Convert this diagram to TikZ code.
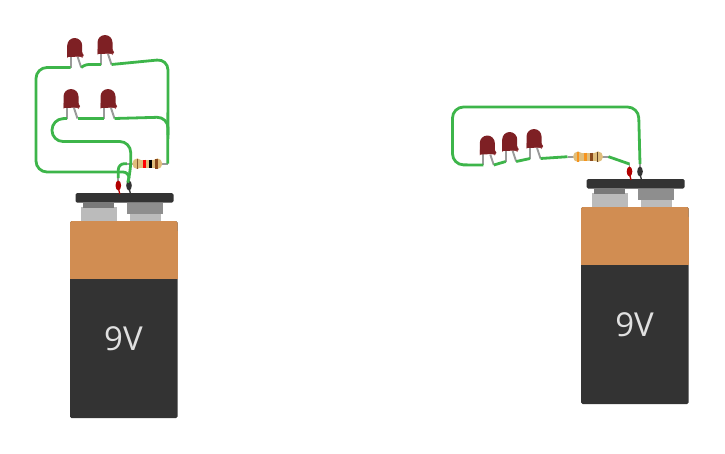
\documentclass[tikz,border=0pt]{standalone}
\usepackage{fontspec}
\newfontfamily\batfont{Open Sans}
\usetikzlibrary{calc}
\definecolor{wiregreen}{HTML}{3DB54A}
\definecolor{ledred}{HTML}{7E2024}
\definecolor{ledrim}{HTML}{A85658}
\definecolor{legrey}{HTML}{9A9A9A}
\definecolor{barblack}{HTML}{333333}
\definecolor{capdark}{HTML}{8E8E8E}
\definecolor{caplight}{HTML}{BBBBBB}
\definecolor{batorange}{HTML}{D18D52}
\definecolor{rescolor}{HTML}{E0BE7C}
\definecolor{bandorange}{HTML}{F7941D}
\definecolor{bandbrown}{HTML}{8B4A1C}
\tikzset{
  wire/.style={draw=wiregreen, line width=2.8pt, rounded corners=11pt},
  leg/.style={draw=legrey, line width=1.9pt},
  pics/led/.style={code={
    % legs first, body on top
    \coordinate (-a) at (-4,29.5);
    \coordinate (-b) at (6.5,29.5);
    \draw[leg] (-4,18) -- (-a);
    \draw[leg] (3,19) -- (-b);
    \fill[ledrim] (-7.5,14) -- (7.5,14) -- (9,17.5) -- (7.5,20) arc[start angle=360,end angle=180,x radius=7.5,y radius=1.8] -- cycle;
    \fill[ledred] (-7.5,19) -- (-7.5,7.5) arc[start angle=180,end angle=360,radius=7.5] -- (7.5,15.5) -- (9,17) -- (7.5,18.5) -- cycle;
  }},
  pics/resistor/.style n args={4}{code={
    \coordinate (-l) at (-20.5,0);
    \coordinate (-r) at (20.5,0);
    \draw[leg] (-l) -- (-r);
    \fill[rescolor] (-10,0) ellipse[x radius=5,y radius=5.3] (10,0) ellipse[x radius=5,y radius=5.3];
    \fill[rescolor] (-10,-4) rectangle (10,4);
    \draw[#1] (-10,-5) -- (-10,5);
    \draw[#2] (-3,-4) -- (-3,4);
    \draw[#3] (3,-4) -- (3,4);
    \draw[#4] (9,-5) -- (9,5);
  }},
  pics/clip/.style={code={
    \coordinate (-tip) at (0,-3);
    \draw[leg] (-tip) -- (0,1);
    \draw[#1, line width=1.3pt] (0.3,8) -- (1.5,13);
    \fill[#1] (0,4.5) ellipse[x radius=2.8,y radius=5];
  }},
  pics/battery/.style={code={
    % caps
    \fill[caplight] (10.7,-14) rectangle (46.7,1);
    \fill[capdark!85!black] (13.3,-18) rectangle (44,-13.5);
    \fill[caplight] (60,-7) rectangle (91,1);
    \fill[capdark] (56.7,-18) rectangle (93.3,-7);
    % top bar
    \fill[barblack, rounded corners=1.5pt] (5.7,-28) rectangle (103.5,-18.3);
    % case
    \fill[barblack, rounded corners=1.5pt] (0,0) rectangle (107.5,197);
    \fill[batorange, rounded corners=1.5pt] (0,0) rectangle (107.5,20);
    \fill[batorange] (0,10) rectangle (107.5,58);
    \node[text=white!88!black, font=\batfont\fontsize{33}{33}\selectfont, inner sep=0pt] (-label) at (53.5,118) {9V};
  }}
}
\begin{document}
\begin{tikzpicture}[x=1pt,y=-1pt]
  \useasboundingbox (0,0) rectangle (725,453);
  % Left circuit
  \pic (batl) at (70,221) {battery};
  \pic (l1) at (74.7,38) {led};
  \pic (l2) at (105,35) {led};
  \pic (l3) at (71,89) {led};
  \pic (l4) at (108,89) {led};
  \pic (resl) at (147.3,163.7) {resistor={line width=1pt,brown!70!black}{line width=2.8pt,red}{line width=2.8pt,black}{line width=3pt,bandbrown}};
  \pic (redl) at (118.3,181) {clip=red!70!black};
  \pic (blkl) at (129,181) {clip=barblack};
  \draw[wire] (l1-a) -- (36,67.5) -- (36,172) [rounded corners=6pt] -- (129,172) -- (blkl-tip);
  \draw[wire, rounded corners=3pt] (l1-b) -- (85.5,64.5) -- (l2-a);
  \draw[wire] (l2-b) -- (168,59) -- (resl-r);
  \draw[wire] (l3-a) -- (52,119) -- (52,141.5) -- (130.7,141.5) -- (130.7,172) -- (blkl-tip);
  \draw[wire] (l3-b) -- (l4-a);
  \draw[wire] (l4-b) -- (168,117) -- (168,135);
  \draw[wire, rounded corners=6pt] (resl-l) -- (118.3,163.7) -- (redl-tip);
  % Right circuit
  \pic (batr) at (581,207) {battery};
  \pic (r1) at (487.3,135.5) {led};
  \pic (r2) at (509.7,132) {led};
  \pic (r3) at (534,129) {led};
  \pic (resr) at (588,156.7) {resistor={line width=2pt,bandorange}{line width=3pt,bandorange}{line width=3pt,bandbrown}{line width=1pt,brown!50!black}};
  \pic (redr) at (629.5,167) {clip=red!70!black};
  \pic (blkr) at (640,167) {clip=barblack};
  \draw[wire] (blkr-tip) -- (638.5,107) -- (452.5,107) -- (452.5,164.8) -- (r1-a);
  \draw[wire] (r1-b) -- (r2-a);
  \draw[wire] (r2-b) -- (r3-a);
  \draw[wire] (r3-b) -- (resr-l);
  \draw[wire] (resr-r) -- (redr-tip);
\end{tikzpicture}
\end{document}
